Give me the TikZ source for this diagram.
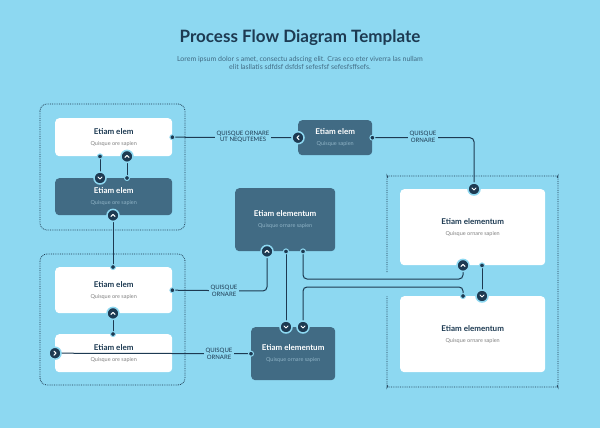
\documentclass[tikz,border=0pt]{standalone}
\usepackage{fontspec}
\setmainfont{Lato}
\usetikzlibrary{calc}
\definecolor{bg}{HTML}{8DD8F1}
\definecolor{dk}{HTML}{416B84}
\definecolor{nv}{HTML}{1D3A52}
\definecolor{sub}{HTML}{8FB3C6}
\begin{document}
\begin{tikzpicture}[x=1pt,y=-1pt,
 wbox/.style={draw=none,fill=white,rounded corners=4pt,inner sep=0pt},
 dbox/.style={draw=none,fill=dk,rounded corners=4pt,inner sep=0pt},
 grp/.style={draw=nv,densely dotted,line width=0.8pt,rounded corners=7pt},
 ln/.style={draw=nv,line width=1pt,rounded corners=4pt},
 dot/.style={circle,fill=nv,draw=bg,line width=1pt,inner sep=0pt,minimum size=5pt},
 lab/.style={font=\fontsize{6}{6.5}\selectfont,text=nv,align=center,fill=bg,inner sep=2pt},
 circ/.style={circle,fill=nv,draw=bg,line width=1.5pt,inner sep=0pt,minimum size=12pt},
 pics/chev/.style={code={\draw[white,line width=1pt,line cap=round,line join=round,rotate=#1] (-2,-1)--(0,1)--(2,-1);}}]
\useasboundingbox (0,0) rectangle (600,428);
\fill[bg] (0,0) rectangle (600,428);
\node[font=\bfseries\fontsize{17}{18}\selectfont,text=nv] (title) at (300,38) {Process Flow Diagram Template};
\node[font=\fontsize{7}{8.5}\selectfont,text=dk,align=center] (subt) at (300,63) {Lorem ipsum dolor s amet, consectu adscing elit. Cras eco eter viverra las nullam\\elit lasllatis sdfdsf dsfdsf sefesfsf sefesfsffsefs.};
% groups
\draw[grp] (40,104) rectangle (185,230);
\draw[grp] (40,254) rectangle (185,385);
\draw[grp] (387,272) -- (387,183) arc[start angle=180,end angle=270,radius=7] -- (551,176) arc[start angle=270,end angle=360,radius=7] -- (558,380) arc[start angle=0,end angle=90,radius=7] -- (394,387) arc[start angle=90,end angle=180,radius=7] -- (387,296);
% boxes
\newcommand\bx[7]{\node[#2,minimum width=#5pt,minimum height=#6pt,anchor=north west,align=center] (#1) at (#3,#4) {#7};}
\newcommand\tw[2]{{\bfseries\fontsize{8}{9}\selectfont\color{nv}#1}\\[-1pt]{\fontsize{5.5}{6}\selectfont\color{gray}#2}}
\newcommand\td[2]{{\bfseries\fontsize{8}{9}\selectfont\color{white}#1}\\[-1pt]{\fontsize{5.5}{6}\selectfont\color{sub}#2}}
\bx{A}{wbox}{55}{118}{117}{38}{\tw{Etiam elem}{Quisque ore sapien}}
\bx{B}{dbox}{55}{178}{117}{37}{\td{Etiam elem}{Quisque ore sapien}}
\bx{C}{dbox}{298}{120}{74}{35}{\td{Etiam elem}{Quisque sapien}}
\bx{D}{dbox}{235}{188}{100}{63}{\td{Etiam elementum}{Quisque ornare sapien}}
\bx{E}{wbox}{400}{189}{145}{76}{\tw{Etiam elementum}{Quisque ornare sapien}}
\bx{F}{wbox}{400}{296}{145}{76}{\tw{Etiam elementum}{Quisque ornare sapien}}
\bx{G}{wbox}{55}{267}{117}{46}{\tw{Etiam elem}{Quisque ore sapien}}
\bx{H}{wbox}{55}{334}{117}{38}{\tw{Etiam elem}{Quisque ore sapien}}
\bx{I}{dbox}{251}{327}{84}{53}{\td{Etiam elementum}{Quisque ornare sapien}}
% connector coordinates
\coordinate (a1) at (A.east); \coordinate (c1) at (C.west);
\coordinate (c2) at (C.east); \coordinate (e1) at ($(E.north west)+(74,0)$);
\path (A.south west) ++(45,0) coordinate (a2); \path (B.north west) ++(45,0) coordinate (b1);
\path (A.south west) ++(72,0) coordinate (a3); \path (B.north west) ++(72,0) coordinate (b2);
\path (B.south west) ++(58,0) coordinate (b3); \path (G.north west) ++(58,0) coordinate (g1);
\coordinate (g2) at (G.east); \path (D.south west) ++(32,0) coordinate (d1);
\path (D.south west) ++(51,0) coordinate (d2); \path (I.north west) ++(35,0) coordinate (i1);
\path (D.south west) ++(68,0) coordinate (d3); \path (E.south west) ++(63,0) coordinate (e2);
\path (I.north west) ++(52,0) coordinate (i2); \path (F.north west) ++(63,0) coordinate (f1);
\path (E.south west) ++(82,0) coordinate (e3); \path (F.north west) ++(82,0) coordinate (f2);
\coordinate (h1) at (H.west); \coordinate (i3) at (I.west);
\path (G.south west) ++(58,0) coordinate (g3); \path (H.north west) ++(58,0) coordinate (h2);
% lines
\draw[ln] (a1) -- (c1);
\draw[ln] (c2) -| (e1);
\draw[ln] (a2) -- (b1); \draw[ln] (b2) -- (a3); \draw[ln] (b3) -- (g1);
\draw[ln] (g2) -- (267,291) -- (d1);
\draw[ln] (d2) -- (i1);
\draw[ln] (d3) |- (e2|-0,279) -- (e2);
\draw[ln] (i2) |- (f1|-0,287) -- (f1);
\draw[ln] (e3) -- (f2);
\draw[ln] (h1) -- (i3);
\draw[ln] (g3) -- (h2);
% labels
\node[lab] (l1) at (243,137) {QUISQUE ORNARE\\UT NEQUTEMES};
\node[lab] (l2) at (423,137) {QUISQUE\\ORNARE};
\node[lab] (l3) at (224,291) {QUISQUE\\ORNARE};
\node[lab] (l4) at (219,354) {QUISQUE\\ORNARE};
% dots
\foreach \p in {a1,c2,a2,b2,g1,g2,d2,d3,f1,e3,i3,h2} \node[dot] at (\p) {};
% chevron circles
\node[circ] (k1) at (c1) {}; \pic at (c1) {chev=-90};
\node[circ] (k2) at (e1) {}; \pic at (e1) {chev=0};
\node[circ] (k3) at (b1) {}; \pic at (b1) {chev=0};
\node[circ] (k4) at (a3) {}; \pic at (a3) {chev=180};
\node[circ] (k5) at (b3) {}; \pic at (b3) {chev=180};
\node[circ] (k6) at (d1) {}; \pic at (d1) {chev=180};
\node[circ] (k7) at (i1) {}; \pic at (i1) {chev=0};
\node[circ] (k8) at (e2) {}; \pic at (e2) {chev=180};
\node[circ] (k9) at (i2) {}; \pic at (i2) {chev=0};
\node[circ] (k10) at (f2) {}; \pic at (f2) {chev=0};
\node[circ] (k11) at (h1) {}; \pic at (h1) {chev=90};
\node[circ] (k12) at (g3) {}; \pic at (g3) {chev=180};
\end{tikzpicture}
\end{document}
